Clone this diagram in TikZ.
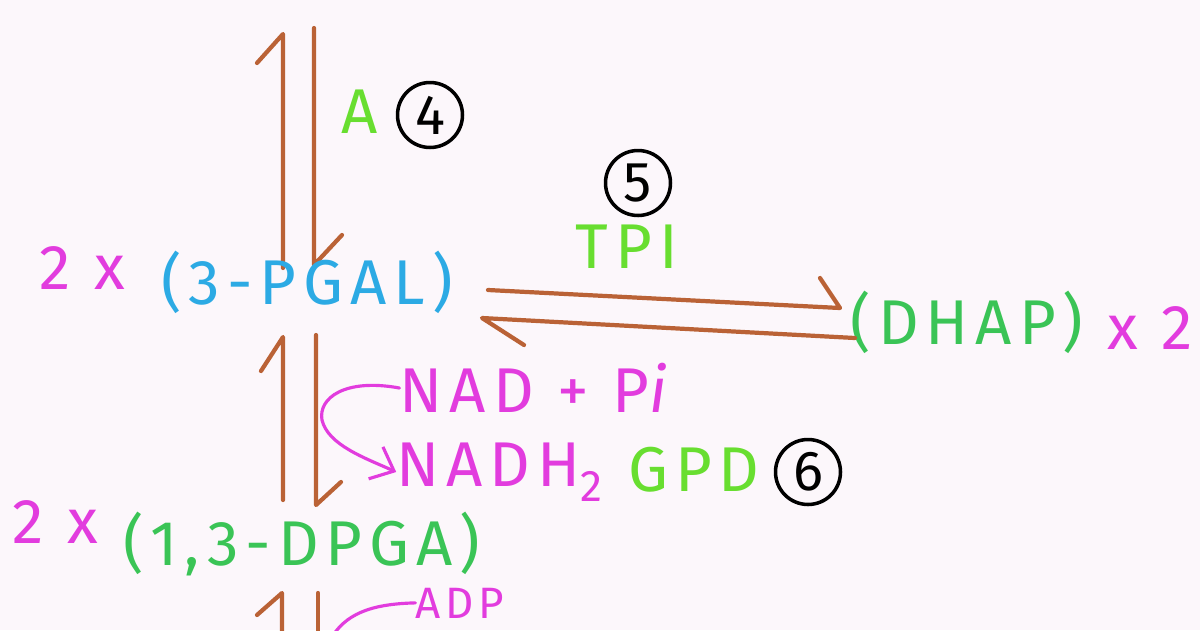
\documentclass[tikz,border=0pt]{standalone}
\usepackage{fontspec}
\setmainfont{Fira Sans}[LetterSpace=11]
\usetikzlibrary{arrows.meta}
\tikzset {>=Stealth}

\definecolor{paper}{RGB}{252,247,251}
\definecolor{ink}{RGB}{186,98,54}
\definecolor{mag}{RGB}{226,60,222}
\definecolor{sky}{RGB}{44,170,228}
\definecolor{lime}{RGB}{104,222,48}
\definecolor{leaf}{RGB}{58,196,86}

\tikzset{
  rxn/.style={draw=ink,line width=2.4pt,line cap=round,line join=round},
  cofac/.style={draw=mag,line width=1.8pt,line cap=round},
  txt/.style={inner sep=0pt,font=\fontsize{36}{40}\selectfont},
  stepno/.style={draw,circle,line width=2pt,minimum size=1.3cm,inner sep=0pt,font=\fontsize{32}{36}\selectfont}
}

\begin{document}
\begin{tikzpicture}[x=0.02cm,y=-0.02cm]
\fill[paper] (0,0) rectangle (1200,630);
\useasboundingbox (0,0) rectangle (1200,630);

% step 4
\coordinate (a1) at (283,268);
\coordinate (a2) at (283,34);
\coordinate (a3) at (314,28);
\coordinate (a4) at (314,265);
\draw[rxn] (a1) -- (a2) -- ++(-26,29);
\draw[rxn] (a3) -- (a4) -- ++(28,-30);
\node[txt,text=lime] (ald) at (360,112) {A};
\node[stepno] (s4) at (430,115) {4};

% 3-PGAL and DHAP
\node[txt,text=mag] (n1) at (82,268) {2 x};
\node[txt,text=sky] (pgal) at (307,282) {(3-PGAL)};
\node[txt,text=leaf] (dhap) at (967,322) {(DHAP)};
\node[txt,text=mag] (n2) at (1150,328) {x 2};

% step 5
\coordinate (b1) at (488,290);
\coordinate (b2) at (840,308);
\coordinate (b3) at (855,338);
\coordinate (b4) at (482,318);
\draw[rxn] (b1) -- (b2) -- ++(-20,-30);
\draw[rxn] (b3) -- (b4) -- ++(42,27);
\node[stepno] (s5) at (638,183) {5};
\node[txt,text=lime] (tpi) at (627,247) {TPI};

% step 6
\coordinate (c1) at (283,500);
\coordinate (c2) at (283,337);
\coordinate (c3) at (316,335);
\coordinate (c4) at (316,505);
\draw[rxn] (c1) -- (c2) -- ++(-22,34);
\draw[rxn] (c3) -- (c4) -- ++(25,-23);
\node[txt,text=mag] (nad) at (537,388) {NAD + P\textit{i}};
\node[txt,text=mag] (nadh) at (500,472) {NADH\textsubscript{2}};
\node[txt,text=lime] (gpd) at (694,470) {GPD};
\node[stepno] (s6) at (808,472) {6};
\draw[cofac,-{Straight Barb[length=0.4cm,width=0.7cm,line width=1.8pt]}]
  (nad.west) .. controls (345,378) and (318,398) .. (322,420)
  .. controls (328,445) and (365,458) .. (nadh.west);

% 1,3-DPGA
\node[txt,text=mag] (n3) at (55,522) {2 x};
\node[txt,text=leaf] (dpga) at (302,544) {(1,3-DPGA)};

% step 7, cut by the page edge
\coordinate (d1) at (282,660);
\coordinate (d2) at (282,593);
\coordinate (d3) at (318,593);
\coordinate (d4) at (318,660);
\draw[rxn] (d1) -- (d2) -- ++(-25,22);
\draw[rxn] (d3) -- (d4);
\node[txt,text=mag,anchor=base,font=\fontsize{25}{28}\selectfont] (adp) at (460,618) {ADP};
\draw[cofac] (adp.west) .. controls (370,604) and (345,614) .. (330,640);
\end{tikzpicture}
\end{document}
